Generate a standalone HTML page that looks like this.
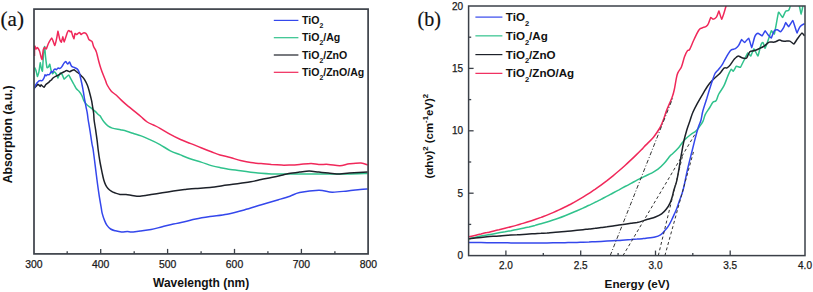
<!DOCTYPE html>
<html><head><meta charset="utf-8"><style>
html,body{margin:0;padding:0;background:#fff;width:813px;height:292px;overflow:hidden}
svg{display:block}
text{font-family:"Liberation Sans",sans-serif}
</style></head><body>
<svg width="813" height="292" viewBox="0 0 813 292">
<rect width="813" height="292" fill="#fff"/>
<g fill="none" stroke-width="1.5" stroke-linejoin="round">
<clipPath id="ca"><rect x="34" y="9" width="334" height="245"/></clipPath>
<clipPath id="cb"><rect x="468.6" y="6" width="336.4" height="249.6"/></clipPath>
<g clip-path="url(#ca)">
<path d="M34.7,67.6 C34.9,68.2 35.7,69.5 36.1,71.0 C36.5,72.5 37.3,76.4 37.4,76.5 C37.5,76.6 38.3,74.7 38.8,72.4 C39.3,70.1 40.1,62.9 40.2,62.8 C40.3,62.7 41.1,67.6 41.5,69.0 C41.9,70.4 42.4,71.6 42.5,71.0 C42.6,70.4 43.2,57.3 43.6,53.2 C44.0,49.1 44.6,46.2 44.7,46.4 C44.8,46.6 45.2,53.8 45.6,57.3 C46.0,60.8 46.9,67.2 47.0,67.6 C47.1,68.0 47.9,67.5 48.4,66.9 C48.9,66.3 49.7,64.1 49.8,64.2 C49.9,64.3 50.6,68.7 51.1,70.3 C51.6,71.9 52.4,73.7 52.5,73.8 C52.6,73.9 54.3,71.7 54.5,71.7 C54.7,71.7 56.0,73.5 56.6,74.5 C57.2,75.5 57.9,78.0 58.0,77.9 C58.1,77.8 59.8,73.2 60.0,73.1 C60.2,73.0 61.4,73.5 62.1,74.5 C62.8,75.5 63.9,79.1 64.1,79.2 C64.3,79.3 66.1,77.2 66.9,76.5 C67.7,75.8 68.7,75.0 68.9,75.1 C69.1,75.2 70.2,77.7 71.0,79.2 C71.8,80.7 72.8,82.4 73.7,84.0 C74.6,85.6 75.5,87.5 76.4,88.8 C77.3,90.0 78.3,90.4 79.2,91.5 C80.1,92.6 81.1,94.1 81.9,95.6 C82.7,97.1 83.0,99.1 83.8,100.6 C84.6,102.1 85.6,103.6 86.8,104.8 C88.0,106.0 89.6,106.7 91.0,107.8 C92.4,108.9 93.9,110.2 95.2,111.4 C96.5,112.6 98.0,114.3 98.8,115.0 C99.6,115.7 99.1,114.6 100.0,115.8 C100.9,117.0 102.7,120.3 104.1,122.0 C105.5,123.7 106.8,125.1 108.2,126.1 C109.6,127.1 110.2,127.5 112.3,128.1 C114.3,128.7 118.1,129.3 120.5,129.8 C122.9,130.3 124.6,130.6 126.7,131.2 C128.8,131.8 130.5,132.5 132.9,133.3 C135.3,134.1 138.4,134.9 141.1,135.9 C143.8,136.9 146.2,138.0 149.3,139.4 C152.5,140.8 156.5,142.7 160.0,144.6 C163.5,146.5 166.9,149.1 170.3,150.8 C173.7,152.5 177.1,153.5 180.5,154.9 C183.9,156.3 187.4,157.8 190.8,159.0 C194.2,160.2 197.7,161.0 201.1,162.1 C204.5,163.2 208.2,164.7 211.3,165.6 C214.5,166.5 216.8,167.0 220.0,167.6 C223.2,168.2 226.9,168.9 230.3,169.4 C233.7,169.9 237.1,170.3 240.5,170.8 C243.9,171.3 247.4,171.8 250.8,172.2 C254.2,172.6 257.7,173.0 261.1,173.3 C264.5,173.6 267.9,173.8 271.3,173.9 C274.7,174.0 278.5,173.9 281.6,173.9 C284.7,173.9 285.4,174.0 290.0,174.0 C294.6,174.0 302.8,174.0 309.2,174.0 C315.6,174.0 322.0,174.0 328.4,174.0 C334.8,174.0 341.1,174.1 347.6,174.0 C354.2,173.9 364.4,173.5 367.7,173.4" stroke="#30c28c"/>
<path d="M34.5,56.0 C34.5,54.3 34.7,46.3 34.8,46.0 C34.9,45.7 35.9,48.9 36.0,49.0 C36.1,49.1 37.3,47.5 37.4,47.6 C37.5,47.7 38.8,49.2 39.5,51.0 C40.2,52.8 41.0,57.2 41.5,58.6 C42.0,60.0 42.1,59.6 42.2,59.2 C42.3,58.8 42.9,51.6 43.3,49.7 C43.7,47.8 44.6,47.6 44.7,47.6 C44.8,47.6 46.2,49.2 46.3,49.0 C46.4,48.8 47.8,44.9 48.4,43.5 C49.0,42.1 49.2,41.7 49.8,40.8 C50.4,39.9 51.7,38.0 51.8,38.0 C51.9,38.0 52.7,40.1 53.2,41.4 C53.7,42.6 54.7,45.6 54.8,45.5 C54.9,45.4 56.1,41.1 56.6,38.7 C57.1,36.3 57.9,31.1 58.0,31.2 C58.1,31.3 59.4,38.3 60.0,40.1 C60.6,41.9 61.3,42.2 61.4,42.1 C61.5,42.0 62.7,36.6 62.8,36.6 C62.9,36.6 64.0,42.1 64.1,42.1 C64.2,42.1 65.6,37.7 66.2,36.0 C66.8,34.3 67.1,32.7 67.6,31.8 C68.0,30.9 68.8,30.5 68.9,30.5 C69.0,30.5 70.2,31.8 70.3,31.8 C70.4,31.8 71.2,31.0 71.3,31.2 C71.4,31.4 72.5,35.4 73.0,36.6 C73.5,37.9 73.9,38.8 74.0,38.7 C74.1,38.6 74.9,33.6 75.0,33.4 C75.1,33.2 76.5,34.6 76.6,34.6 C76.7,34.6 77.6,33.8 78.1,33.4 C78.6,33.0 79.5,32.4 79.6,32.4 C79.7,32.4 80.9,34.6 81.0,34.6 C81.1,34.6 82.1,33.7 82.6,33.4 C83.1,33.1 83.5,32.8 84.0,32.8 C84.5,32.8 85.2,32.9 85.8,33.4 C86.4,33.9 86.9,34.8 87.4,35.8 C87.9,36.8 88.3,38.6 88.8,39.4 C89.3,40.2 90.0,40.2 90.6,40.6 C91.2,41.0 91.7,40.8 92.2,41.8 C92.7,42.8 93.1,45.3 93.6,46.6 C94.1,47.9 94.9,48.6 95.4,49.6 C95.9,50.6 96.2,51.3 96.6,52.6 C97.0,53.9 97.4,55.8 97.8,57.4 C98.2,59.0 98.5,60.4 99.0,62.2 C99.5,64.0 100.1,66.1 100.8,68.2 C101.5,70.3 102.4,72.8 103.2,74.8 C104.0,76.8 104.8,78.8 105.5,80.5 C106.2,82.2 106.2,83.2 107.2,85.0 C108.2,86.8 109.8,89.5 111.3,91.2 C112.8,92.9 114.5,93.6 116.4,95.3 C118.3,97.0 120.5,99.5 122.6,101.4 C124.6,103.3 126.6,104.9 128.7,106.6 C130.8,108.3 132.8,110.0 134.9,111.7 C137.0,113.4 139.1,115.1 141.1,116.8 C143.1,118.5 145.1,120.6 147.2,122.0 C149.2,123.4 151.3,124.0 153.4,125.0 C155.5,126.0 157.2,126.7 160.0,128.3 C162.8,129.9 166.9,132.5 170.3,134.4 C173.7,136.3 177.1,138.0 180.5,139.5 C183.9,141.0 187.4,142.2 190.8,143.6 C194.2,145.0 197.7,146.3 201.1,147.7 C204.5,149.1 208.2,150.6 211.3,151.8 C214.5,153.0 216.8,154.1 220.0,155.0 C223.2,155.9 226.9,156.6 230.3,157.5 C233.7,158.4 237.1,159.7 240.5,160.5 C243.9,161.3 247.4,162.1 250.8,162.6 C254.2,163.1 257.7,163.3 261.1,163.6 C264.5,163.9 267.9,164.3 271.3,164.6 C274.7,164.8 278.5,165.0 281.6,165.1 C284.7,165.2 287.0,165.1 290.0,165.0 C293.0,164.9 296.1,164.7 299.6,164.4 C303.1,164.1 307.9,163.4 311.1,163.4 C314.3,163.4 315.9,164.2 318.8,164.4 C321.7,164.6 324.9,164.2 328.4,164.4 C331.9,164.6 336.4,165.8 339.9,165.7 C343.4,165.6 346.0,164.2 349.5,163.8 C353.0,163.4 358.0,162.8 361.0,163.0 C364.0,163.2 366.6,164.7 367.7,165.0" stroke="#f0285a"/>
<path d="M34.0,88.5 C34.1,88.4 34.3,88.1 34.7,87.7 C35.1,87.3 35.9,86.6 36.4,86.0 C36.9,85.4 37.6,84.3 37.7,84.3 C37.8,84.3 38.6,84.8 39.0,85.1 C39.4,85.4 40.2,86.4 40.3,86.4 C40.4,86.4 41.0,84.7 41.1,84.7 C41.2,84.7 41.9,85.6 42.4,86.0 C42.9,86.4 44.0,87.3 44.1,87.3 C44.2,87.3 45.0,85.7 45.4,85.1 C45.8,84.5 46.2,84.2 46.7,83.8 C47.2,83.4 47.8,83.1 48.4,82.6 C49.0,82.1 49.6,81.2 50.1,80.8 C50.6,80.4 51.0,80.4 51.4,80.0 C51.8,79.6 52.2,78.8 52.7,78.3 C53.2,77.8 53.8,77.4 54.4,77.0 C55.0,76.6 55.5,76.4 56.1,76.1 C56.7,75.8 57.1,75.8 58.0,75.3 C58.9,74.8 60.4,73.8 61.4,73.2 C62.4,72.6 63.2,72.2 64.1,71.8 C65.0,71.3 66.7,70.5 66.9,70.5 C67.1,70.5 69.4,71.8 69.6,71.8 C69.8,71.8 71.3,70.8 72.0,70.5 C72.7,70.2 73.8,69.8 74.0,69.8 C74.2,69.8 75.5,70.9 76.4,71.6 C77.3,72.2 78.3,72.9 79.2,73.7 C80.1,74.5 81.0,75.4 81.9,76.4 C82.8,77.4 83.8,78.4 84.7,79.9 C85.6,81.4 86.6,83.2 87.4,85.3 C88.2,87.3 88.8,89.7 89.5,92.2 C90.2,94.8 91.0,98.0 91.6,100.6 C92.1,103.2 92.4,105.6 92.8,107.8 C93.2,110.0 93.5,111.8 93.7,113.8 C93.9,115.8 93.8,117.4 94.1,120.0 C94.4,122.6 95.0,125.8 95.6,129.6 C96.1,133.4 97.0,139.4 97.4,142.8 C97.8,146.2 97.8,146.8 98.2,150.0 C98.6,153.2 99.3,158.0 100.0,162.0 C100.7,166.0 101.8,171.0 102.4,174.0 C103.0,177.0 103.3,178.2 103.8,180.0 C104.3,181.8 104.9,183.4 105.6,184.8 C106.3,186.2 107.0,187.3 108.0,188.4 C109.0,189.5 110.4,190.6 111.6,191.4 C112.8,192.2 113.8,192.5 115.2,193.0 C116.6,193.5 118.2,194.1 120.0,194.4 C121.8,194.7 124.0,194.4 126.0,194.6 C128.0,194.8 129.7,195.1 132.0,195.4 C134.3,195.7 136.8,196.3 140.0,196.2 C143.2,196.1 147.4,195.2 151.1,194.6 C154.8,194.0 158.6,193.4 162.3,192.8 C166.0,192.2 169.7,191.6 173.4,191.0 C177.1,190.4 180.8,189.9 184.5,189.5 C188.2,189.1 191.4,188.7 195.7,188.4 C199.9,188.1 204.8,188.1 210.0,187.5 C215.2,186.9 222.0,185.8 227.1,185.1 C232.2,184.4 236.6,183.9 240.5,183.3 C244.4,182.7 247.4,182.3 250.8,181.7 C254.2,181.1 257.7,180.3 261.1,179.6 C264.5,178.9 267.9,178.3 271.3,177.6 C274.7,176.9 278.7,176.0 281.6,175.3 C284.5,174.6 285.8,174.0 288.8,173.5 C291.8,173.0 296.2,172.5 299.6,172.1 C303.0,171.7 306.0,171.1 309.2,171.1 C312.4,171.1 315.6,171.8 318.8,172.1 C322.0,172.4 324.9,172.7 328.4,173.0 C331.9,173.3 336.4,174.0 339.9,174.0 C343.4,174.0 344.9,173.3 349.5,173.0 C354.1,172.7 364.7,172.2 367.7,172.1" stroke="#1d2129"/>
<path d="M34.0,89.5 C34.2,88.9 34.7,87.0 35.1,86.0 C35.5,85.0 36.0,84.5 36.4,83.8 C36.8,83.1 37.3,82.6 37.7,82.1 C38.1,81.6 38.6,81.1 39.0,80.8 C39.4,80.5 39.9,80.4 40.3,80.4 C40.7,80.4 41.5,80.8 41.6,80.8 C41.7,80.8 42.4,80.5 42.8,80.0 C43.2,79.5 43.7,78.7 44.1,77.8 C44.5,76.9 44.9,74.9 45.0,74.8 C45.1,74.7 46.2,75.7 46.3,75.7 C46.4,75.7 47.5,74.4 47.6,74.4 C47.7,74.4 48.7,74.8 48.8,74.8 C48.9,74.8 49.7,74.2 50.1,73.6 C50.5,73.0 51.3,71.5 51.4,71.4 C51.5,71.3 52.6,72.4 52.7,72.3 C52.8,72.2 53.6,70.3 54.0,69.7 C54.4,69.1 55.2,68.9 55.3,68.9 C55.4,68.9 56.4,69.7 56.5,69.7 C56.6,69.7 57.9,68.1 58.0,68.0 C58.1,67.9 59.8,68.5 60.0,68.4 C60.2,68.3 61.5,67.2 62.1,66.4 C62.7,65.6 63.2,64.2 63.8,63.4 C64.4,62.6 65.7,61.4 65.8,61.4 C65.9,61.4 67.3,64.1 67.5,64.1 C67.7,64.1 69.4,61.9 69.6,62.0 C69.8,62.1 70.8,65.3 71.6,66.2 C72.4,67.1 73.5,67.0 74.4,67.5 C75.3,68.0 76.3,68.1 77.1,68.9 C77.9,69.7 78.6,70.8 79.2,72.3 C79.8,73.8 80.0,75.8 80.5,77.8 C81.0,79.8 81.4,81.7 81.9,84.0 C82.4,86.3 82.8,88.8 83.3,91.5 C83.8,94.2 84.2,97.3 84.7,100.0 C85.2,102.7 85.8,105.5 86.2,107.8 C86.7,110.1 87.1,111.8 87.4,113.8 C87.7,115.8 87.7,117.0 88.2,120.0 C88.7,123.0 89.6,128.0 90.2,132.0 C90.8,136.0 91.5,141.0 92.0,144.0 C92.5,147.0 92.7,146.4 93.2,150.0 C93.7,153.6 94.6,160.6 95.2,165.6 C95.8,170.6 96.4,175.2 97.0,180.0 C97.6,184.8 98.3,189.6 99.0,194.4 C99.7,199.2 100.9,205.6 101.4,208.8 C101.9,212.0 101.7,211.4 102.2,213.4 C102.7,215.4 103.8,218.6 104.6,220.6 C105.4,222.6 106.0,224.0 107.0,225.4 C108.0,226.8 109.2,228.1 110.6,229.0 C112.0,229.9 113.6,230.3 115.4,230.8 C117.2,231.3 119.4,231.9 121.4,232.0 C123.4,232.1 125.8,231.6 127.4,231.6 C129.0,231.6 129.4,232.0 131.0,232.0 C132.6,232.0 135.5,231.6 137.0,231.4 C138.5,231.2 137.7,231.4 140.0,231.1 C142.3,230.8 147.4,230.3 151.1,229.6 C154.8,228.9 158.6,227.6 162.3,226.7 C166.0,225.8 169.7,224.8 173.4,224.0 C177.1,223.2 180.8,222.6 184.5,221.8 C188.2,221.0 191.4,220.0 195.7,219.1 C199.9,218.2 204.8,217.4 210.0,216.6 C215.2,215.8 221.4,215.3 227.1,214.2 C232.8,213.1 238.5,211.6 244.2,210.0 C249.9,208.4 255.7,206.5 261.4,204.8 C267.1,203.1 273.7,201.1 278.5,199.7 C283.3,198.3 286.5,197.4 290.0,196.2 C293.5,195.0 294.8,193.6 299.6,192.6 C304.4,191.6 313.4,190.4 318.8,190.3 C324.2,190.2 327.4,192.1 332.2,192.2 C337.0,192.3 342.5,191.4 347.6,190.9 C352.7,190.4 359.6,189.6 363.0,189.3 C366.4,189.0 366.9,189.1 367.7,189.0" stroke="#3447ec"/>
</g>
<g clip-path="url(#cb)">
<path d="M469.0,238.7 C470.0,238.5 473.0,237.8 475.0,237.4 C477.0,236.9 479.0,236.5 481.0,236.1 C483.0,235.7 485.0,235.4 487.0,235.0 C489.0,234.6 491.0,234.3 493.0,233.9 C495.0,233.6 497.0,233.2 499.0,232.8 C501.0,232.5 503.0,232.1 505.0,231.8 C507.0,231.4 509.0,231.0 511.0,230.7 C513.0,230.3 515.0,229.9 517.0,229.5 C519.0,229.1 521.0,228.7 523.0,228.2 C525.0,227.8 527.0,227.3 529.0,226.9 C531.0,226.4 533.0,225.9 535.0,225.4 C537.0,224.8 539.0,224.3 541.0,223.7 C543.0,223.2 545.0,222.6 547.0,222.0 C549.0,221.4 551.0,220.7 553.0,220.0 C555.0,219.4 557.0,218.7 559.0,218.0 C561.0,217.3 563.0,216.5 565.0,215.7 C567.0,215.0 569.0,214.2 571.0,213.3 C573.0,212.5 575.0,211.7 577.0,210.8 C579.0,209.9 581.0,209.0 583.0,208.1 C585.0,207.2 587.0,206.2 589.0,205.3 C591.0,204.3 593.0,203.3 595.0,202.3 C597.0,201.4 599.0,200.3 601.0,199.3 C603.0,198.3 605.0,197.2 607.0,196.2 C609.0,195.1 611.0,194.1 613.0,193.0 C615.0,191.9 617.0,190.8 619.0,189.8 C621.0,188.7 623.0,187.6 625.0,186.5 C627.0,185.5 629.0,184.4 631.0,183.3 C633.0,182.3 635.0,181.2 637.0,180.2 C639.0,179.2 641.0,178.1 643.0,177.2 C645.0,176.2 647.5,175.0 649.0,174.3 C650.5,173.5 650.5,173.7 652.0,172.9 C653.5,172.0 656.0,170.7 658.0,169.2 C660.0,167.7 662.0,165.8 664.0,163.6 C666.0,161.4 668.7,157.6 670.0,156.0 C671.3,154.4 670.5,155.6 672.0,154.2 C673.5,152.8 676.8,149.7 678.8,147.4 C680.8,145.1 682.0,142.7 684.0,140.5 C686.0,138.3 688.8,136.1 690.8,134.5 C692.8,132.9 694.5,132.4 695.9,131.1 C697.3,129.8 698.2,128.4 699.4,126.8 C700.5,125.2 701.8,123.7 702.8,121.7 C703.8,119.7 704.2,116.8 705.2,114.6 C706.2,112.4 707.8,110.5 709.1,108.5 C710.4,106.5 711.8,103.6 712.9,102.3 C714.0,101.0 715.0,102.2 716.0,100.8 C717.0,99.4 717.5,96.5 718.8,94.0 C720.1,91.5 722.5,88.8 724.0,85.7 C725.5,82.6 726.9,78.1 728.1,75.4 C729.3,72.7 731.0,69.5 731.2,69.3 C731.4,69.1 733.0,71.4 733.2,71.3 C733.4,71.2 736.1,66.4 736.4,66.2 C736.7,66.0 740.2,67.5 740.5,67.2 C740.8,66.9 743.4,61.4 744.6,59.0 C745.8,56.6 747.5,53.0 747.7,52.9 C747.9,52.8 750.6,56.2 750.8,56.0 C751.0,55.8 753.6,48.7 753.9,48.7 C754.2,48.7 757.7,56.2 758.0,56.0 C758.3,55.8 760.2,46.8 761.1,44.6 C762.0,42.4 762.9,42.5 763.1,42.6 C763.3,42.7 764.9,48.4 765.1,48.3 C765.3,48.2 767.2,42.9 768.2,40.0 C769.2,37.1 771.1,31.0 771.3,30.8 C771.5,30.6 774.1,34.6 774.4,33.9 C774.7,33.2 778.2,13.0 778.5,12.3 C778.8,11.6 782.3,17.5 782.6,17.5 C782.9,17.5 784.7,12.5 785.7,11.3 C786.7,10.1 787.9,11.4 788.7,10.3 C789.6,9.2 789.8,6.7 790.8,5.0 C791.8,3.3 794.7,0.0 795.0,0.0 C795.3,0.0 798.0,2.6 799.0,5.0 C800.0,7.4 800.9,14.4 801.1,14.4 C801.3,14.4 802.6,7.4 803.1,5.0 C803.6,2.6 803.9,0.8 804.0,0.0" stroke="#30c28c"/>
<path d="M469.0,236.8 C470.0,236.6 473.0,235.9 475.0,235.4 C477.0,234.9 479.0,234.4 481.0,234.0 C483.0,233.5 485.0,233.0 487.0,232.6 C489.0,232.1 491.0,231.7 493.0,231.2 C495.0,230.7 497.0,230.2 499.0,229.8 C501.0,229.3 503.0,228.8 505.0,228.3 C507.0,227.8 509.0,227.3 511.0,226.7 C513.0,226.2 515.0,225.7 517.0,225.1 C519.0,224.5 521.0,224.0 523.0,223.4 C525.0,222.8 527.0,222.2 529.0,221.5 C531.0,220.9 533.0,220.2 535.0,219.5 C537.0,218.8 539.0,218.1 541.0,217.4 C543.0,216.6 545.0,215.9 547.0,215.1 C549.0,214.3 551.0,213.5 553.0,212.6 C555.0,211.7 557.0,210.8 559.0,209.9 C561.0,209.0 563.0,208.0 565.0,207.0 C567.0,206.1 569.0,205.0 571.0,204.0 C573.0,202.9 575.0,201.8 577.0,200.7 C579.0,199.5 581.0,198.3 583.0,197.1 C585.0,195.9 587.0,194.7 589.0,193.4 C591.0,192.1 593.0,190.7 595.0,189.4 C597.0,188.0 599.0,186.6 601.0,185.1 C603.0,183.6 605.0,182.1 607.0,180.6 C609.0,179.0 611.0,177.4 613.0,175.8 C615.0,174.2 617.0,172.5 619.0,170.8 C621.0,169.1 623.0,167.3 625.0,165.5 C627.0,163.7 629.0,161.8 631.0,159.9 C633.0,158.1 635.0,156.1 637.0,154.1 C639.0,152.2 641.5,149.6 643.0,148.1 C644.5,146.5 644.2,146.7 646.0,144.9 C647.8,143.1 651.1,140.1 653.5,137.2 C655.9,134.3 658.4,130.4 660.1,127.5 C661.8,124.5 662.4,122.5 663.5,119.5 C664.6,116.5 665.5,113.2 667.0,109.4 C668.5,105.7 671.0,100.2 672.2,97.0 C673.4,93.8 673.4,93.8 674.2,90.0 C675.1,86.2 676.1,78.0 677.3,74.2 C678.5,70.4 680.2,69.9 681.4,67.0 C682.6,64.1 683.5,59.4 684.5,56.7 C685.5,54.0 686.6,51.8 687.5,50.6 C688.4,49.4 688.6,51.2 689.6,49.5 C690.6,47.8 692.2,43.5 693.7,40.3 C695.2,37.0 697.5,32.0 698.9,30.0 C700.3,27.9 700.8,28.6 702.0,28.0 C703.2,27.4 705.2,27.0 706.2,26.3 C707.2,25.6 707.5,25.5 708.2,24.0 C709.0,22.5 710.5,17.7 710.7,17.5 C710.9,17.3 712.8,19.2 713.0,19.2 C713.2,19.2 715.4,18.5 716.4,17.1 C717.4,15.7 718.7,10.9 718.9,11.0 C719.1,11.1 721.4,19.1 721.6,19.2 C721.8,19.3 723.3,15.2 724.0,13.0 C724.7,10.8 725.5,7.9 726.0,6.2 C726.5,4.5 726.8,3.5 727.0,3.0" stroke="#f0285a"/>
<path d="M469.0,238.7 C470.0,238.6 473.0,238.2 475.0,238.0 C477.0,237.8 479.0,237.6 481.0,237.4 C483.0,237.2 485.0,237.0 487.0,236.8 C489.0,236.7 491.0,236.5 493.0,236.3 C495.0,236.2 497.0,236.1 499.0,235.9 C501.0,235.8 503.0,235.6 505.0,235.5 C507.0,235.4 509.0,235.2 511.0,235.1 C513.0,235.0 515.0,234.9 517.0,234.8 C519.0,234.6 521.0,234.5 523.0,234.4 C525.0,234.3 527.0,234.2 529.0,234.0 C531.0,233.9 533.0,233.8 535.0,233.7 C537.0,233.5 539.0,233.4 541.0,233.3 C543.0,233.1 545.0,233.0 547.0,232.9 C549.0,232.7 551.0,232.6 553.0,232.4 C555.0,232.3 557.0,232.1 559.0,231.9 C561.0,231.8 563.0,231.6 565.0,231.4 C567.0,231.3 569.0,231.1 571.0,230.9 C573.0,230.7 575.0,230.5 577.0,230.3 C579.0,230.1 581.0,229.9 583.0,229.7 C585.0,229.5 587.0,229.2 589.0,229.0 C591.0,228.8 593.0,228.5 595.0,228.3 C597.0,228.0 599.0,227.8 601.0,227.5 C603.0,227.3 605.0,227.0 607.0,226.8 C609.0,226.5 611.0,226.2 613.0,225.9 C615.0,225.6 617.0,225.4 619.0,225.1 C621.0,224.8 623.0,224.5 625.0,224.2 C627.0,223.9 629.0,223.6 631.0,223.3 C633.0,223.0 635.5,222.6 637.0,222.4 C638.5,222.1 638.2,222.4 640.0,221.9 C641.8,221.4 645.1,220.1 647.7,219.3 C650.3,218.5 653.1,217.9 655.4,217.0 C657.7,216.1 659.8,215.2 661.6,213.9 C663.4,212.6 664.8,211.1 666.2,209.3 C667.6,207.5 669.0,205.3 670.0,203.1 C671.0,200.9 671.8,198.4 672.4,196.2 C673.0,194.0 673.2,192.5 673.9,190.0 C674.6,187.5 675.8,184.7 676.6,181.4 C677.4,178.1 678.0,174.5 678.8,170.0 C679.6,165.5 680.5,159.1 681.4,154.2 C682.3,149.3 683.1,144.5 684.0,140.5 C684.9,136.5 685.8,133.4 686.8,130.0 C687.8,126.6 689.2,123.0 690.2,120.0 C691.2,117.0 691.7,115.1 692.9,112.3 C694.1,109.5 695.8,106.2 697.5,103.1 C699.2,100.0 701.2,96.6 702.9,93.8 C704.6,91.0 705.9,88.5 707.5,86.2 C709.1,84.0 710.4,82.4 712.4,80.3 C714.4,78.2 717.9,75.4 719.8,73.4 C721.7,71.4 722.8,69.1 724.0,68.2 C725.2,67.3 726.0,68.3 727.0,67.8 C728.0,67.3 728.9,66.6 730.1,65.1 C731.3,63.6 733.0,60.5 734.4,59.0 C735.8,57.5 738.2,55.9 738.5,55.9 C738.8,55.9 741.2,57.6 742.6,58.0 C744.0,58.4 746.4,58.2 746.7,58.0 C747.0,57.8 748.6,53.0 749.8,51.8 C751.0,50.6 752.4,51.3 753.9,50.8 C755.4,50.3 757.3,49.5 759.0,48.7 C760.7,47.9 762.4,47.3 764.1,46.2 C765.8,45.1 767.5,42.8 769.2,42.1 C770.9,41.4 772.7,42.5 774.4,42.1 C776.1,41.8 778.1,40.2 779.5,40.0 C780.9,39.8 781.4,40.9 782.6,41.1 C783.8,41.3 785.5,41.1 786.7,41.1 C787.9,41.1 788.6,40.6 789.8,41.1 C791.0,41.6 793.6,44.2 793.9,44.1 C794.2,44.0 796.6,39.9 798.0,38.0 C799.4,36.1 801.8,33.0 802.1,32.9 C802.4,32.8 804.2,35.4 804.6,35.9" stroke="#1d2129"/>
<path d="M469.0,242.6 C470.0,242.6 473.0,242.6 475.0,242.6 C477.0,242.6 479.0,242.6 481.0,242.6 C483.0,242.6 485.0,242.6 487.0,242.7 C489.0,242.7 491.0,242.7 493.0,242.7 C495.0,242.7 497.0,242.8 499.0,242.8 C501.0,242.8 503.0,242.8 505.0,242.8 C507.0,242.8 509.0,242.9 511.0,242.9 C513.0,242.9 515.0,242.9 517.0,242.9 C519.0,242.9 521.0,242.9 523.0,242.9 C525.0,242.9 527.0,243.0 529.0,243.0 C531.0,243.0 533.0,243.0 535.0,243.0 C537.0,243.0 539.0,243.0 541.0,242.9 C543.0,242.9 545.0,242.9 547.0,242.9 C549.0,242.9 551.0,242.9 553.0,242.8 C555.0,242.8 557.0,242.8 559.0,242.8 C561.0,242.7 563.0,242.7 565.0,242.7 C567.0,242.6 569.0,242.6 571.0,242.5 C573.0,242.5 575.0,242.4 577.0,242.4 C579.0,242.3 581.0,242.3 583.0,242.2 C585.0,242.1 587.0,242.0 589.0,242.0 C591.0,241.9 593.0,241.8 595.0,241.7 C597.0,241.6 599.0,241.5 601.0,241.4 C603.0,241.3 605.0,241.2 607.0,241.1 C609.0,241.0 611.0,240.9 613.0,240.8 C615.0,240.7 617.0,240.5 619.0,240.4 C621.0,240.3 623.0,240.1 625.0,240.0 C627.0,239.9 629.0,239.7 631.0,239.6 C633.0,239.4 635.0,239.2 637.0,239.1 C639.0,238.9 641.7,238.7 643.0,238.6 C644.3,238.5 643.0,238.7 645.0,238.4 C647.0,238.1 652.4,237.6 655.0,237.0 C657.6,236.4 658.9,235.9 660.5,234.9 C662.1,233.9 663.4,232.2 664.6,230.8 C665.9,229.4 666.9,228.4 668.0,226.7 C669.1,225.0 670.4,222.6 671.4,220.5 C672.4,218.4 673.3,216.5 674.2,214.4 C675.1,212.3 676.0,210.6 676.9,208.2 C677.8,205.8 678.7,203.0 679.7,200.0 C680.7,197.0 681.8,195.0 683.1,190.0 C684.4,185.0 686.0,176.2 687.4,170.0 C688.8,163.8 690.4,157.7 691.7,152.5 C693.0,147.3 694.0,143.1 695.1,138.8 C696.2,134.5 697.5,129.9 698.5,126.8 C699.5,123.7 700.3,122.7 701.0,120.0 C701.7,117.3 701.9,114.4 702.9,110.8 C703.9,107.2 705.6,102.2 706.8,98.5 C707.9,94.8 708.8,91.6 709.8,88.5 C710.8,85.4 711.7,82.5 712.6,80.0 C713.5,77.5 714.1,75.1 715.0,73.5 C715.9,71.9 716.6,71.7 717.8,70.3 C718.9,68.9 720.8,66.6 721.9,65.1 C723.0,63.6 723.0,63.0 724.1,61.1 C725.2,59.2 727.0,55.8 728.2,53.9 C729.4,52.0 730.1,50.7 731.3,49.8 C732.5,48.9 734.2,49.4 735.4,48.7 C736.6,48.0 737.5,47.2 738.5,45.7 C739.5,44.2 741.4,39.6 741.6,39.5 C741.8,39.4 744.3,42.7 744.6,42.6 C744.9,42.5 748.4,37.9 748.7,38.1 C749.0,38.3 751.6,47.8 751.8,47.7 C752.0,47.6 753.9,38.8 754.9,36.4 C755.9,34.0 757.7,33.3 758.0,33.3 C758.3,33.3 761.8,36.0 762.1,35.9 C762.4,35.8 764.9,30.8 765.1,30.8 C765.3,30.8 767.2,33.7 768.2,34.9 C769.2,36.1 771.1,38.2 771.3,38.0 C771.5,37.8 773.4,32.2 774.4,30.8 C775.4,29.4 777.3,29.8 777.5,29.8 C777.7,29.8 780.3,31.9 780.5,31.8 C780.7,31.7 782.7,29.2 783.6,27.7 C784.5,26.2 785.5,22.6 785.7,22.6 C785.9,22.6 788.4,26.8 788.7,26.7 C789.0,26.6 792.6,20.3 792.9,20.5 C793.2,20.7 796.7,32.7 797.0,32.9 C797.3,33.1 798.7,28.2 800.0,26.7 C801.3,25.1 803.8,24.1 804.6,23.6" stroke="#3447ec"/>
<path d="M610.2,255.6 L673.0,97.5" stroke="#333" stroke-width="1" stroke-dasharray="4,2,1,2"/>
<path d="M623.0,255.6 L696.0,132.5" stroke="#333" stroke-width="1" stroke-dasharray="3,2.5"/>
<path d="M658.3,255.6 L683.0,154.0" stroke="#333" stroke-width="1" stroke-dasharray="3,2.5"/>
<path d="M664.9,255.6 L694.0,150.0" stroke="#333" stroke-width="1" stroke-dasharray="3,2.5"/>
</g>
</g>
<g stroke="#3b4048" stroke-width="1.7" fill="none">
<rect x="34" y="9.1" width="334.1" height="244.8"/>
<rect x="468.6" y="6" width="336.4" height="249.6" stroke-width="1.5"/>
</g>
<g stroke="#3b4048" stroke-width="1.3"><line x1="67.2" y1="253.9" x2="67.2" y2="251.3"/><line x1="100.7" y1="253.9" x2="100.7" y2="248.9"/><line x1="134.2" y1="253.9" x2="134.2" y2="251.3"/><line x1="167.6" y1="253.9" x2="167.6" y2="248.9"/><line x1="201.1" y1="253.9" x2="201.1" y2="251.3"/><line x1="234.5" y1="253.9" x2="234.5" y2="248.9"/><line x1="267.9" y1="253.9" x2="267.9" y2="251.3"/><line x1="301.4" y1="253.9" x2="301.4" y2="248.9"/><line x1="334.9" y1="253.9" x2="334.9" y2="251.3"/><line x1="505.9" y1="255.6" x2="505.9" y2="250.6"/><line x1="543.3" y1="255.6" x2="543.3" y2="253.0"/><line x1="580.7" y1="255.6" x2="580.7" y2="250.6"/><line x1="618.1" y1="255.6" x2="618.1" y2="253.0"/><line x1="655.5" y1="255.6" x2="655.5" y2="250.6"/><line x1="692.8" y1="255.6" x2="692.8" y2="253.0"/><line x1="730.2" y1="255.6" x2="730.2" y2="250.6"/><line x1="468.6" y1="224.4" x2="471.2" y2="224.4"/><line x1="468.6" y1="193.2" x2="473.6" y2="193.2"/><line x1="468.6" y1="162.0" x2="471.2" y2="162.0"/><line x1="468.6" y1="130.8" x2="473.6" y2="130.8"/><line x1="468.6" y1="99.6" x2="471.2" y2="99.6"/><line x1="468.6" y1="68.4" x2="473.6" y2="68.4"/><line x1="468.6" y1="37.2" x2="471.2" y2="37.2"/></g>
<g font-size="10.4" fill="#1a1a1a" stroke="#1a1a1a" stroke-width="0.25"><text x="33.8" y="268" text-anchor="middle">300</text><text x="100.7" y="268" text-anchor="middle">400</text><text x="167.6" y="268" text-anchor="middle">500</text><text x="234.5" y="268" text-anchor="middle">600</text><text x="301.4" y="268" text-anchor="middle">700</text><text x="368.3" y="268" text-anchor="middle">800</text></g>
<g font-size="10" fill="#1a1a1a" stroke="#1a1a1a" stroke-width="0.25"><text x="505.9" y="268.5" text-anchor="middle">2.0</text><text x="580.7" y="268.5" text-anchor="middle">2.5</text><text x="655.5" y="268.5" text-anchor="middle">3.0</text><text x="730.2" y="268.5" text-anchor="middle">3.5</text><text x="805.0" y="268.5" text-anchor="middle">4.0</text><text x="463" y="259.2" text-anchor="end">0</text><text x="463" y="196.8" text-anchor="end">5</text><text x="463" y="134.4" text-anchor="end">10</text><text x="463" y="72.0" text-anchor="end">15</text><text x="463" y="9.6" text-anchor="end">20</text></g>
<line x1="273.8" y1="20.4" x2="298.4" y2="20.4" stroke="#3447ec" stroke-width="1.2"/><text x="302" y="24.0" font-size="10.55" font-weight="bold" fill="#111">TiO<tspan font-size="6.9" dy="4.0">2</tspan><tspan dy="-4.0"></tspan></text><line x1="273.8" y1="37.7" x2="298.4" y2="37.7" stroke="#30c28c" stroke-width="1.2"/><text x="302" y="41.3" font-size="10.55" font-weight="bold" fill="#111">TiO<tspan font-size="6.9" dy="4.0">2</tspan><tspan dy="-4.0">/Ag</tspan></text><line x1="273.8" y1="55.0" x2="298.4" y2="55.0" stroke="#1d2129" stroke-width="1.2"/><text x="302" y="58.6" font-size="10.55" font-weight="bold" fill="#111">TiO<tspan font-size="6.9" dy="4.0">2</tspan><tspan dy="-4.0">/ZnO</tspan></text><line x1="273.8" y1="72.3" x2="298.4" y2="72.3" stroke="#f0285a" stroke-width="1.2"/><text x="302" y="75.9" font-size="10.55" font-weight="bold" fill="#111">TiO<tspan font-size="6.9" dy="4.0">2</tspan><tspan dy="-4.0">/ZnO/Ag</tspan></text>
<line x1="475.4" y1="17.1" x2="502.4" y2="17.1" stroke="#3447ec" stroke-width="1.2"/><text x="505.8" y="21.1" font-size="11.6" font-weight="bold" fill="#111">TiO<tspan font-size="7.5" dy="4.6">2</tspan><tspan dy="-4.6"></tspan></text><line x1="475.4" y1="35.85" x2="502.4" y2="35.85" stroke="#30c28c" stroke-width="1.2"/><text x="505.8" y="39.9" font-size="11.6" font-weight="bold" fill="#111">TiO<tspan font-size="7.5" dy="4.6">2</tspan><tspan dy="-4.6">/Ag</tspan></text><line x1="475.4" y1="54.6" x2="502.4" y2="54.6" stroke="#1d2129" stroke-width="1.2"/><text x="505.8" y="58.6" font-size="11.6" font-weight="bold" fill="#111">TiO<tspan font-size="7.5" dy="4.6">2</tspan><tspan dy="-4.6">/ZnO</tspan></text><line x1="475.4" y1="73.35" x2="502.4" y2="73.35" stroke="#f0285a" stroke-width="1.2"/><text x="505.8" y="77.3" font-size="11.6" font-weight="bold" fill="#111">TiO<tspan font-size="7.5" dy="4.6">2</tspan><tspan dy="-4.6">/ZnO/Ag</tspan></text>
<text x="153" y="286.7" font-size="12" font-weight="bold" fill="#111">Wavelength (nm)</text>
<text x="604.6" y="287.6" font-size="11.7" font-weight="bold" fill="#111">Energy (eV)</text>
<text transform="translate(11.9,183.3) rotate(-90)" font-size="12.25" font-weight="bold" fill="#111">Absorption (a.u.)</text>
<text transform="translate(432.9,178.6) rotate(-90)" font-size="11.4" font-weight="bold" fill="#111">(αhν)<tspan font-size="7.8" dy="-5.2">2</tspan><tspan dy="5.2"> (cm</tspan><tspan font-size="7.8" dy="-5.2">-1</tspan><tspan dy="5.2">eV)</tspan><tspan font-size="7.8" dy="-5.2">2</tspan></text>
<text x="0.6" y="26" font-size="21" style="font-family:'Liberation Serif',serif" fill="#111" stroke="#111" stroke-width="0.2">(a)</text>
<text x="417.5" y="26" font-size="20" style="font-family:'Liberation Serif',serif" fill="#111" stroke="#111" stroke-width="0.2">(b)</text>
</svg>
</body></html>
